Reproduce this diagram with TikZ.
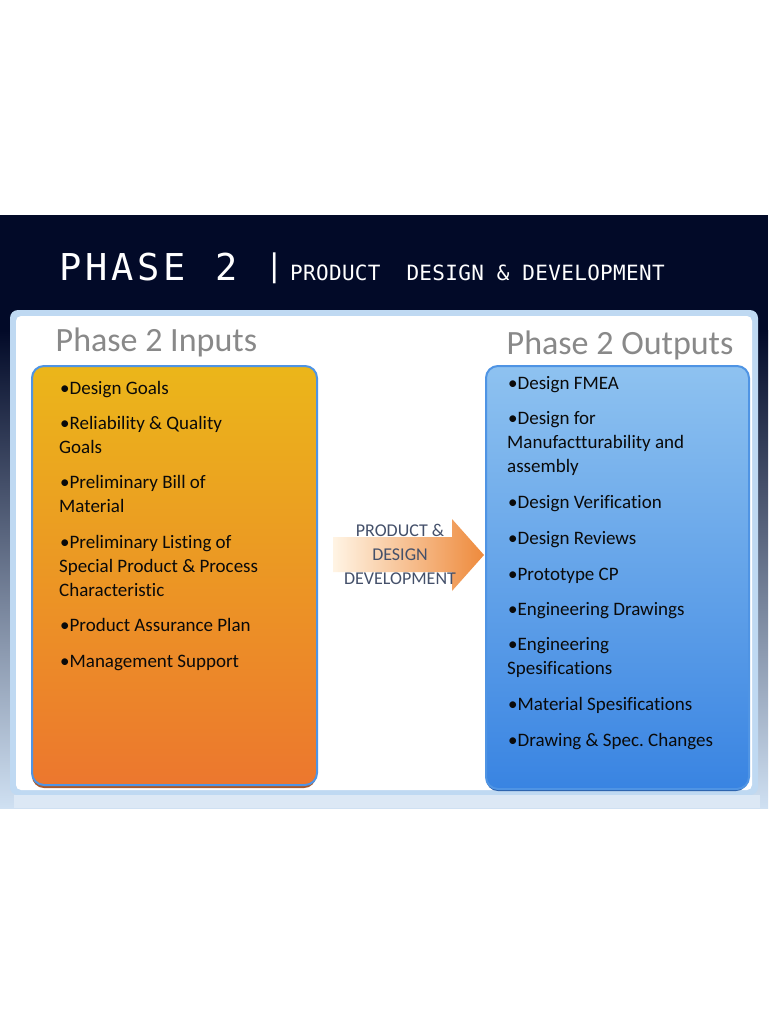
\documentclass[tikz,border=0pt]{standalone}
\usepackage{fontspec}
\setmainfont{Carlito}[Ligatures={NoCommon}]
\newfontfamily\titlemono[LetterSpace=10]{DejaVu Sans Mono}
\newfontfamily\titlemonosmall[LetterSpace=1.5]{DejaVu Sans Mono}
\newfontfamily\dejavusans{DejaVu Sans}
\newcommand\firststrut{\rule{0pt}{14pt}}
\definecolor{navy}{HTML}{020A28}
\definecolor{midblue}{HTML}{2E4E80}
\definecolor{lightbg}{HTML}{CFE0F2}
\definecolor{panelborder}{HTML}{BFD9F2}
\definecolor{stripblue}{HTML}{DCE8F5}
\definecolor{orangetop}{HTML}{EBB61A}
\definecolor{orangemid}{HTML}{EEA024}
\definecolor{orangebot}{HTML}{EC772E}
\definecolor{orangeshadow}{HTML}{A9582A}
\definecolor{bluetop}{HTML}{8EC2F0}
\definecolor{bluemid}{HTML}{67A6EC}
\definecolor{bluebot}{HTML}{3984E2}
\definecolor{blueshadow}{HTML}{2A5FA8}
\definecolor{boxborder}{HTML}{4F94E4}
\definecolor{headgray}{HTML}{898989}
\definecolor{arrowtext}{HTML}{44506A}
\definecolor{arrowpale}{HTML}{FFF4E4}
\definecolor{arrowmid}{HTML}{F2A666}
\definecolor{arroworange}{HTML}{EE8A3C}
\definecolor{bodytext}{HTML}{0A0A0A}
\frenchspacing
\begin{document}
\begin{tikzpicture}[x=1pt,y=-1pt,
  inbox/.style={draw=boxborder, line width=2pt, rounded corners=12pt, anchor=north west,
    top color=orangetop, middle color=orangemid, bottom color=orangebot},
  outbox/.style={draw=boxborder, line width=2pt, rounded corners=12pt, anchor=north west,
    top color=bluetop, middle color=bluemid, bottom color=bluebot},
  itemtxt/.style={anchor=north west, inner sep=0pt, align=left, text=bodytext,
    font=\fontsize{19}{24}\selectfont},
  heading/.style={anchor=base west, inner sep=0pt, text=headgray,
    font=\fontsize{34}{40}\selectfont},
  titlebig/.style={anchor=base west, inner sep=0pt, text=white,
    font=\titlemono\fontsize{37}{40}\selectfont},
  titlesmall/.style={anchor=base west, inner sep=0pt, text=white,
    font=\titlemonosmall\fontsize{21}{24}\selectfont}
]
\useasboundingbox (0,0) rectangle (768,1024);
\fill[white] (0,0) rectangle (768,1024);
% slide background
\fill[navy] (0,215) rectangle (768,331);
\shade[top color=navy, middle color=midblue, bottom color=lightbg] (0,330) rectangle (768,808);
% panel
\fill[panelborder, rounded corners=8pt] (10,310) rectangle (758,795);
\fill[white, rounded corners=5pt] (16,316) rectangle (752,790);
\fill[stripblue] (14,795) rectangle (760,808);
% title
\node[titlebig] (phase) at (59,280) {PHASE};
\node[titlebig] (two) at (215,280) {2};
\node[anchor=center, inner sep=0pt, text=white, font=\dejavusans\fontsize{31}{34}\selectfont] (bar) at (275,268) {|};
\node[titlesmall] (subtitle) at (290,280) {PRODUCT~~DESIGN~\&~DEVELOPMENT};
% headings
\node[heading] (inhead) at (55.5,351) {Phase 2 Inputs};
\node[heading] (outhead) at (506.5,354) {Phase 2 Outputs};
% box shadows
\fill[orangeshadow, rounded corners=12pt] (32,369) rectangle (316,788);
\fill[blueshadow, rounded corners=12pt] (486,369) rectangle (748,791);
% boxes
\node[inbox, minimum width=285pt, minimum height=419pt] (inputs) at (31,365) {};
\node[outbox, minimum width=263pt, minimum height=423pt] (outputs) at (485,365) {};
% arrow
\path[left color=arrowpale, middle color=arrowmid, right color=arroworange]
  (333,537) -- (452,537) -- (452,519) -- (484,555) -- (452,591) -- (452,572) -- (333,572) -- cycle;
\node[anchor=center, align=center, inner sep=0pt, text=arrowtext,
  font=\fontsize{18}{24}\selectfont] (arrowlabel) at (400,554)
  {PRODUCT \&\\DESIGN\\DEVELOPMENT};
% texts
\node[itemtxt] (intext) at (59,380) {\firststrut\hspace{1pt}•Design Goals\\[11pt]
\hspace{1pt}•Reliability \& Quality\\
Goals\\[11pt]
\hspace{1pt}•Preliminary Bill of\\
Material\\[12pt]
\hspace{1pt}•Preliminary Listing of\\
Special Product \& Process\\
Characteristic\\[11pt]
\hspace{1pt}•Product Assurance Plan\\[12pt]
\hspace{1pt}•Management Support};
\node[itemtxt] (outtext) at (507,375) {\firststrut\hspace{1pt}•Design FMEA\\[11pt]
\hspace{1pt}•Design for\\
Manufactturability and\\
assembly\\[12pt]
\hspace{1pt}•Design Verification\\[12pt]
\hspace{1pt}•Design Reviews\\[12pt]
\hspace{1pt}•Prototype CP\\[11pt]
\hspace{1pt}•Engineering Drawings\\[11pt]
\hspace{1pt}•Engineering\\
Spesifications\\[12pt]
\hspace{1pt}•Material Spesifications\\[12pt]
\hspace{1pt}•Drawing \& Spec. Changes};
\end{tikzpicture}
\end{document}
